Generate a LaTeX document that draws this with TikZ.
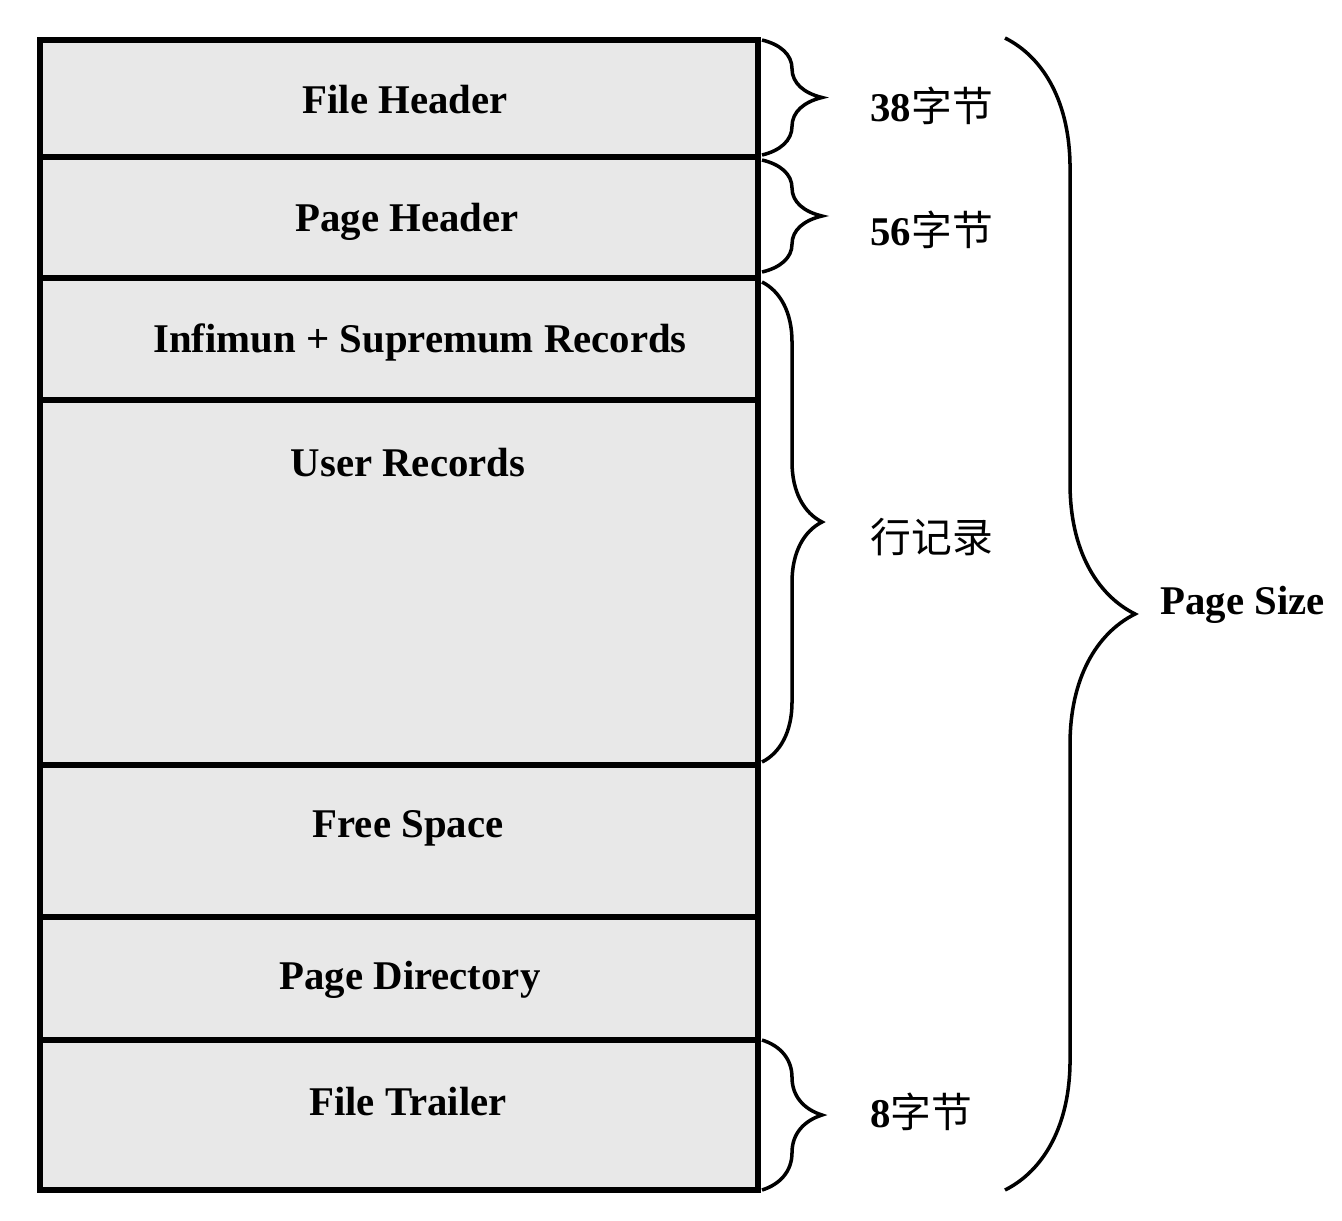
\documentclass[tikz,border=0pt]{standalone}
\usepackage{fontspec}
\setmainfont{Liberation Serif}
\newfontfamily\cjk{Noto Sans CJK SC}
\usetikzlibrary{decorations.pathreplacing}
\begin{document}
\begin{tikzpicture}[x=0.01cm,y=-0.01cm,
  cell/.style={draw=black,line width=1.8pt,fill=black!9},
  lbl/.style={font=\fontsize{11.6}{14}\selectfont\bfseries},
  side/.style={font=\fontsize{11.6}{14}\selectfont\bfseries,anchor=west},
  brc/.style={decorate,decoration={brace,amplitude=#1},line width=1pt}]
\useasboundingbox (0,0) rectangle (1342,1220);

\foreach \a/\b in {40/157,157/278,278/400,400/765,765/917,917/1040,1040/1190}
	\draw[cell] (40,\a) rectangle (758,\b);

\node[lbl] (fh) at (405,100)  {File Header};
\node[lbl] (ph) at (407,222)  {Page Header};
\node[lbl] (is) at (420,342)  {Infimun + Supremum Records};
\node[lbl] (ur) at (408,463)  {User Records};
\node[lbl] (fs) at (408,828)  {Free Space};
\node[lbl] (pd) at (410,980)  {Page Directory};
\node[lbl] (ft) at (408,1102) {File Trailer};

% brace ends
\coordinate (fhT) at (762,40);   \coordinate (fhB) at (762,155);
\coordinate (phT) at (762,160);  \coordinate (phB) at (762,272);
\coordinate (rrT) at (762,282);  \coordinate (rrB) at (762,762);
\coordinate (ftT) at (762,1040); \coordinate (ftB) at (762,1190);
\coordinate (psT) at (1005,38);  \coordinate (psB) at (1005,1190);

\draw[brc=0.6cm] (fhT) -- (fhB);
\draw[brc=0.6cm] (phT) -- (phB);
\draw[brc=0.6cm] (rrT) -- (rrB);
\draw[brc=0.6cm] (ftT) -- (ftB);
\draw[brc=1.3cm] (psT) -- (psB);

\node[side] (s38) at (858,106)  {38{\cjk\mdseries 字节}};
\node[side] (s56) at (858,230)  {56{\cjk\mdseries 字节}};
\node[side] (srow) at (858,537) {{\cjk\mdseries 行记录}};
\node[side] (s8) at (858,1112)  {8{\cjk\mdseries 字节}};
\node[side] (sps) at (1148,605) {Page Size};
\end{tikzpicture}
\end{document}
